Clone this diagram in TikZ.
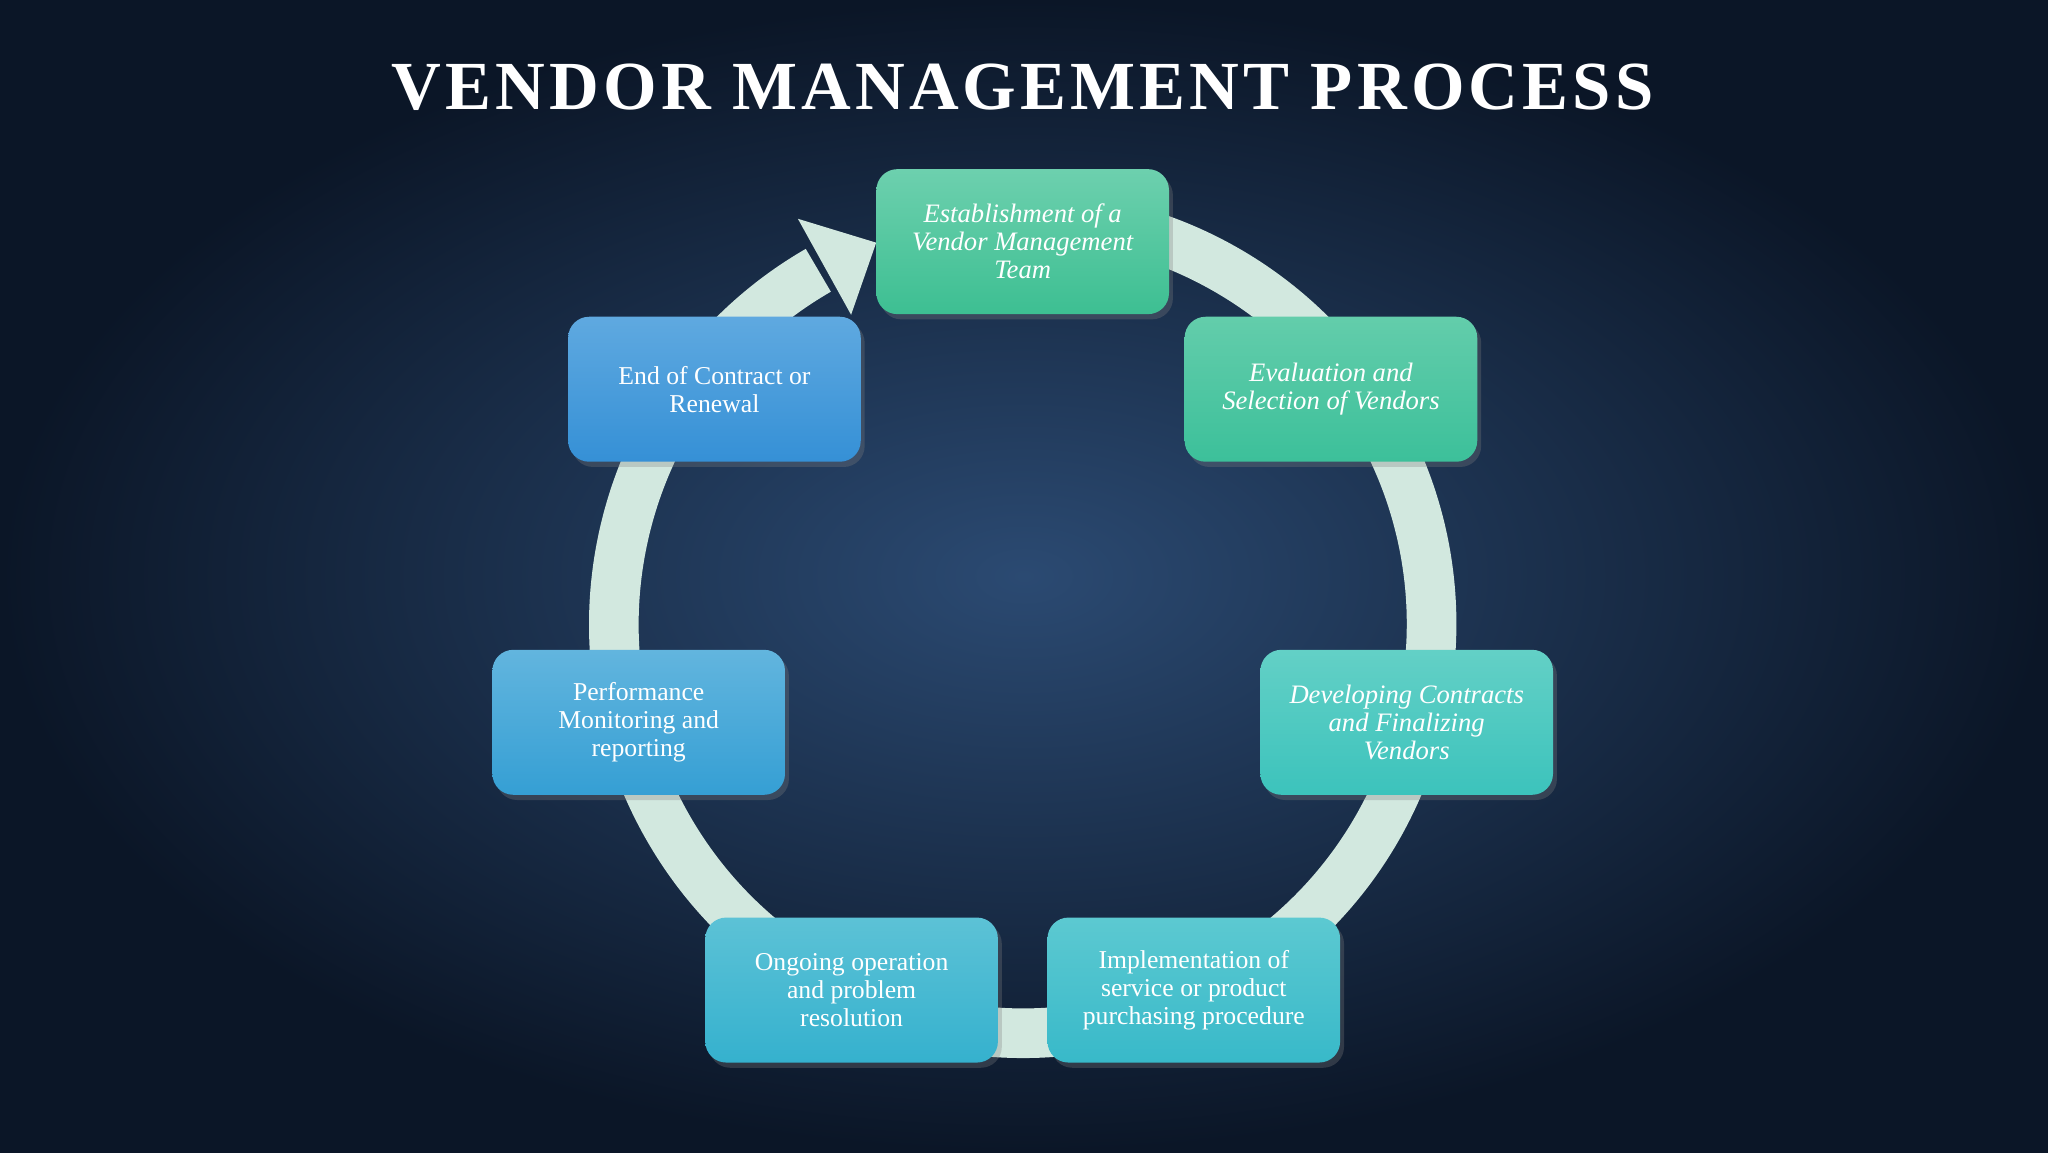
\documentclass[tikz,border=0pt]{standalone}
\usepackage{fontspec}
\setmainfont{Liberation Serif}
\usetikzlibrary{shadows}
\definecolor{ringc}{HTML}{D2E8DF}
\definecolor{bgin}{HTML}{2B4A72}
\definecolor{bgout}{HTML}{0B1627}
\definecolor{aT}{HTML}{6DD0AE}\definecolor{aB}{HTML}{3DBF92}
\definecolor{bT}{HTML}{63CDAB}\definecolor{bB}{HTML}{3CC09A}
\definecolor{cT}{HTML}{63D0C6}\definecolor{cB}{HTML}{3CC3BC}
\definecolor{dT}{HTML}{5CC9D1}\definecolor{dB}{HTML}{38B9C9}
\definecolor{eT}{HTML}{5CC2D6}\definecolor{eB}{HTML}{35B1CE}
\definecolor{fT}{HTML}{62B5DE}\definecolor{fB}{HTML}{359FD4}
\definecolor{gT}{HTML}{5FA9E0}\definecolor{gB}{HTML}{3590D6}
\tikzset{
 stepbox/.style={rounded corners=1.6mm, minimum width=2.24cm, minimum height=1.11cm,
   inner sep=0.5mm, align=center, text=white, font=\fontsize{5.6}{6.1}\selectfont,
   drop shadow={shadow xshift=0.3mm, shadow yshift=-0.4mm, opacity=0.3}},
 itbox/.style={stepbox, font=\itshape\fontsize{5.8}{6.1}\selectfont},
}
\begin{document}
\begin{tikzpicture}[x=1cm,y=1cm]
\useasboundingbox (0,0) rectangle (15.68,8.82);
\shade[inner color=bgin, outer color=bgout] (0,0) rectangle (15.68,8.82);
\node[text=white, font=\bfseries\fontsize{15}{18}\selectfont] (title) at (7.83,8.15) {\addfontfeatures{LetterSpace=6}VENDOR MANAGEMENT PROCESS};
\coordinate (c) at (7.83,4.04);
% ring
\draw[ringc, line width=3.8mm] ([shift={(120:3.13)}]c) arc[start angle=120, end angle=450, radius=3.13];
\fill[ringc] ([shift={(119:3.55)}]c) -- ([shift={(111:3.13)}]c) -- ([shift={(119:2.71)}]c) -- cycle;
% boxes
\node[itbox, top color=aT, bottom color=aB] (b1) at (7.83,6.97) {Establishment of a\\Vendor Management\\Team};
\node[itbox, top color=bT, bottom color=bB] (b2) at (10.19,5.84) {Evaluation and\\Selection of Vendors};
\node[itbox, top color=cT, bottom color=cB] (b3) at (10.77,3.29) {Developing Contracts\\and Finalizing\\Vendors};
\node[stepbox, top color=dT, bottom color=dB] (b4) at (9.14,1.24) {Implementation of\\service or product\\purchasing procedure};
\node[stepbox, top color=eT, bottom color=eB] (b5) at (6.52,1.24) {Ongoing operation\\and problem\\resolution};
\node[stepbox, top color=fT, bottom color=fB] (b6) at (4.89,3.29) {Performance\\Monitoring and\\reporting};
\node[stepbox, top color=gT, bottom color=gB] (b7) at (5.47,5.84) {End of Contract or\\Renewal};
\end{tikzpicture}
\end{document}
